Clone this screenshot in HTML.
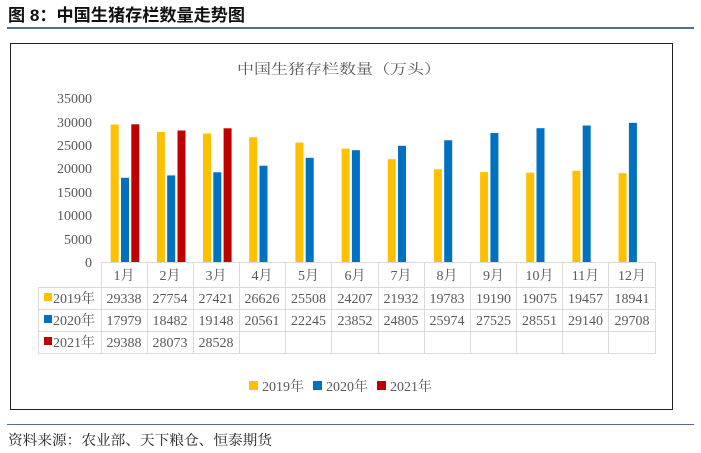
<!DOCTYPE html>
<html><head><meta charset="utf-8"><style>
body{margin:0;background:#fff;width:701px;height:453px;overflow:hidden}
svg{display:block}
.s{font-family:"Liberation Serif","Noto Serif CJK SC",serif;fill:#595959;font-size:14px}
</style></head><body>
<svg width="701" height="453" xmlns="http://www.w3.org/2000/svg">
<text x="8" y="21" font-family="'Liberation Sans','Noto Sans CJK SC',sans-serif" font-weight="bold" font-size="17" fill="#111" textLength="237" lengthAdjust="spacingAndGlyphs">图 8：中国生猪存栏数量走势图</text>
<rect x="7" y="27" width="687" height="2" fill="#4f6f8f"/>
<rect x="10.5" y="43.5" width="662" height="366" fill="none" stroke="#222" stroke-width="1"/>
<text class="s" x="237" y="74" font-size="18" textLength="204" lengthAdjust="spacingAndGlyphs">中国生猪存栏数量（万头）</text>
<g class="s" text-anchor="end">
<text x="92" y="103">35000</text><text x="92" y="127">30000</text><text x="92" y="150">25000</text><text x="92" y="173">20000</text><text x="92" y="197">15000</text><text x="92" y="220">10000</text><text x="92" y="244">5000</text><text x="92" y="267">0</text>
</g>
<g fill="#FFC000">
<rect x="110.7" y="124.5" width="8" height="137.5"/><rect x="156.9" y="132" width="8" height="130"/><rect x="203" y="133.5" width="8" height="128.5"/><rect x="249.2" y="137.2" width="8" height="124.8"/><rect x="295.4" y="142.5" width="8" height="119.5"/><rect x="341.6" y="148.6" width="8" height="113.4"/><rect x="387.7" y="159.2" width="8" height="102.8"/><rect x="433.9" y="169.3" width="8" height="92.7"/><rect x="480.1" y="172.1" width="8" height="89.9"/><rect x="526.2" y="172.6" width="8" height="89.4"/><rect x="572.4" y="170.8" width="8" height="91.2"/><rect x="618.6" y="173.2" width="8" height="88.8"/>
</g>
<g fill="#0070C0">
<rect x="121" y="177.8" width="8" height="84.2"/><rect x="167.2" y="175.4" width="8" height="86.6"/><rect x="213.3" y="172.3" width="8" height="89.7"/><rect x="259.5" y="165.7" width="8" height="96.3"/><rect x="305.7" y="157.8" width="8" height="104.2"/><rect x="351.9" y="150.2" width="8" height="111.8"/><rect x="398" y="145.8" width="8" height="116.2"/><rect x="444.2" y="140.3" width="8" height="121.7"/><rect x="490.4" y="133" width="8" height="129"/><rect x="536.5" y="128.2" width="8" height="133.8"/><rect x="582.7" y="125.5" width="8" height="136.5"/><rect x="628.9" y="122.8" width="8" height="139.2"/>
</g>
<g fill="#C00000">
<rect x="131.3" y="124.3" width="8" height="137.7"/><rect x="177.5" y="130.5" width="8" height="131.5"/><rect x="223.6" y="128.3" width="8" height="133.7"/>
</g>
<g stroke="#d9d9d9" stroke-width="1" fill="none">
<path d="M101 262.5H655.5M38 287.5H655.5M38 309.5H655.5M38 331.5H655.5M38 353.5H655.5M38.5 287V354"/>
<path d="M101.5 262V354M147.5 262V354M193.5 262V354M239.5 262V354M285.5 262V354M331.5 262V354M378.5 262V354M424.5 262V354M470.5 262V354M516.5 262V354M562.5 262V354M608.5 262V354M655.5 262V354"/>
</g>
<g class="s" text-anchor="middle">
<text x="124" y="280">1月</text><text x="170" y="280">2月</text><text x="216" y="280">3月</text><text x="262" y="280">4月</text><text x="308.5" y="280">5月</text><text x="355" y="280">6月</text><text x="401" y="280">7月</text><text x="447" y="280">8月</text><text x="493.5" y="280">9月</text><text x="539.5" y="280">10月</text><text x="585.5" y="280">11月</text><text x="632" y="280">12月</text>
<text x="124" y="303">29338</text><text x="170" y="303">27754</text><text x="216" y="303">27421</text><text x="262" y="303">26626</text><text x="308.5" y="303">25508</text><text x="355" y="303">24207</text><text x="401" y="303">21932</text><text x="447" y="303">19783</text><text x="493.5" y="303">19190</text><text x="539.5" y="303">19075</text><text x="585.5" y="303">19457</text><text x="632" y="303">18941</text>
<text x="124" y="325">17979</text><text x="170" y="325">18482</text><text x="216" y="325">19148</text><text x="262" y="325">20561</text><text x="308.5" y="325">22245</text><text x="355" y="325">23852</text><text x="401" y="325">24805</text><text x="447" y="325">25974</text><text x="493.5" y="325">27525</text><text x="539.5" y="325">28551</text><text x="585.5" y="325">29140</text><text x="632" y="325">29708</text>
<text x="124" y="347">29388</text><text x="170" y="347">28073</text><text x="216" y="347">28528</text>
</g>
<rect x="44" y="293" width="8" height="8" fill="#FFC000"/><text class="s" x="53" y="303">2019年</text>
<rect x="44" y="315" width="8" height="8" fill="#0070C0"/><text class="s" x="53" y="325">2020年</text>
<rect x="44" y="337" width="8" height="8" fill="#C00000"/><text class="s" x="53" y="347">2021年</text>
<rect x="249" y="381" width="9" height="9" fill="#FFC000"/><text class="s" x="262" y="391">2019年</text>
<rect x="313" y="381" width="9" height="9" fill="#0070C0"/><text class="s" x="326" y="391">2020年</text>
<rect x="377" y="381" width="9" height="9" fill="#C00000"/><text class="s" x="390" y="391">2021年</text>
<rect x="7" y="424" width="687" height="1" fill="#4f6f8f"/>
<text class="s" x="8" y="445" font-size="15" style="fill:#222" textLength="264" lengthAdjust="spacingAndGlyphs">资料来源：农业部、天下粮仓、恒泰期货</text>
</svg>
</body></html>
